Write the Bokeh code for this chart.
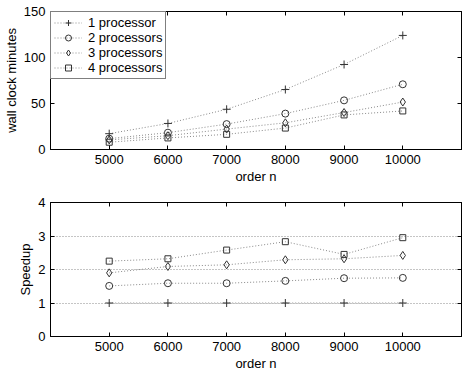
from bokeh.plotting import figure
from bokeh.layouts import column
from bokeh.models import LinearAxis, FixedTicker, Range1d, CustomJSTickFormatter
from bokeh.embed import file_html
from bokeh.resources import INLINE

order = [5000, 6000, 7000, 8000, 9000, 10000]
labels = ["1 processor", "2 processors", "3 processors", "4 processors"]
markers = ["cross", "circle", "diamond", "square"]
marker_sizes = [8, 7, 8, 6]

t1 = [17.2, 28.3, 43.7, 65.2, 92.4, 124.0]
t2 = [11.8, 18.3, 27.6, 39.0, 53.4, 70.9]
t3 = [10.4, 15.0, 22.2, 29.0, 40.2, 51.6]
t4 = [7.9, 12.6, 16.5, 23.3, 37.6, 41.9]

s1 = [1.0, 1.0, 1.0, 1.0, 1.0, 1.0]
s2 = [1.51, 1.59, 1.59, 1.66, 1.74, 1.75]
s3 = [1.90, 2.09, 2.14, 2.29, 2.32, 2.42]
s4 = [2.25, 2.32, 2.58, 2.83, 2.45, 2.95]

x_ticks = [5000, 6000, 7000, 8000, 9000, 10000]
y1_ticks = [0, 50, 100, 150]
y2_ticks = [0, 1, 2, 3, 4]

FONT = "Liberation Sans"
FS = "13px"
LINE_C = "#8a8a8a"
MARK_C = "#333333"


def style_axis(ax, show_labels=True):
    ax.major_tick_in = 4
    ax.major_tick_out = 0
    ax.minor_tick_line_color = None
    ax.axis_line_color = "black"
    ax.major_tick_line_color = "black"
    ax.major_label_text_font = FONT
    ax.major_label_text_font_size = FS
    ax.major_label_text_color = "black"
    ax.axis_label_text_font = FONT
    ax.axis_label_text_font_size = FS
    ax.axis_label_text_font_style = "normal"
    ax.axis_label_text_color = "black"
    ax.major_label_standoff = 5 if show_labels else 0
    ax.axis_label_standoff = 2
    if not show_labels:
        ax.formatter = CustomJSTickFormatter(code="return ''")


def make_fig(height, top, bottom, yr, yticks, ylabel):
    p = figure(width=472, height=height, output_backend="svg", toolbar_location=None,
               x_range=Range1d(4000, 11000), y_range=Range1d(*yr),
               min_border_left=42, min_border_right=11, min_border_top=top,
               min_border_bottom=bottom)
    p.outline_line_color = "black"
    p.background_fill_color = "white"
    p.border_fill_color = "white"
    p.xaxis.ticker = FixedTicker(ticks=x_ticks)
    p.yaxis.ticker = FixedTicker(ticks=yticks)
    p.xaxis.axis_label = "order n"
    p.yaxis.axis_label = ylabel
    style_axis(p.xaxis[0])
    style_axis(p.yaxis[0])
    ax_top = LinearAxis(ticker=FixedTicker(ticks=x_ticks))
    ax_right = LinearAxis(ticker=FixedTicker(ticks=yticks))
    style_axis(ax_top, False)
    style_axis(ax_right, False)
    p.add_layout(ax_top, "above")
    p.add_layout(ax_right, "right")
    p.xgrid.grid_line_color = None
    p.ygrid.grid_line_color = None
    return p


p1 = make_fig(186, 11, 35, (0, 150), y1_ticks, "wall clock minutes")
for ys, lab, m, sz in zip([t1, t2, t3, t4], labels, markers, marker_sizes):
    p1.line(order, ys, line_color=LINE_C, line_dash="1 2", line_width=1, legend_label=lab)
    p1.scatter(order, ys, marker=m, size=sz, line_color=MARK_C, fill_color=None,
               line_width=1, legend_label=lab)

lg = p1.legend[0]
lg.location = "top_left"
lg.margin = 0
lg.padding = 3
lg.spacing = 0
lg.border_line_color = "black"
lg.border_line_width = 1
lg.background_fill_color = "white"
lg.background_fill_alpha = 1
lg.label_text_font = FONT
lg.label_text_font_size = FS
lg.label_text_color = "black"
lg.label_height = 15
lg.glyph_height = 15
lg.glyph_width = 28
lg.label_standoff = 6

p2 = make_fig(187, 16, 32, (0, 4), y2_ticks, "Speedup")
p2.ygrid.grid_line_color = LINE_C
p2.ygrid.grid_line_dash = "1 2"
p2.ygrid.ticker = FixedTicker(ticks=[1, 2, 3])
for ys, m, sz in zip([s1, s2, s3, s4], markers, marker_sizes):
    p2.line(order, ys, line_color=LINE_C, line_dash="1 2", line_width=1)
    p2.scatter(order, ys, marker=m, size=sz, line_color=MARK_C, fill_color=None, line_width=1)

layout = column(p1, p2, spacing=0)
open("out.html", "w").write(file_html(layout, INLINE))
